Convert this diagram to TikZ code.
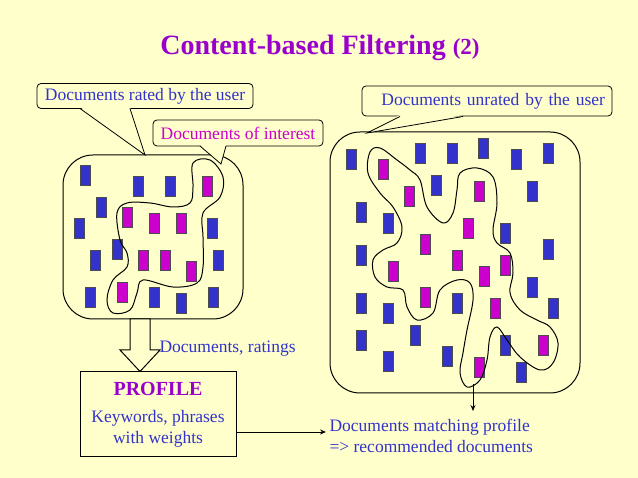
\documentclass[tikz,border=0pt]{standalone}
\usepackage{fontspec}
\setmainfont{Liberation Serif}
\usetikzlibrary{arrows.meta}
\definecolor{bg}{HTML}{FFFFCC}
\definecolor{dblue}{HTML}{3333CC}
\definecolor{dmag}{HTML}{CC00CC}
\definecolor{dpur}{HTML}{9900CC}
\begin{document}
\begin{tikzpicture}[x=1pt,y=-1pt,
  b/.style={fill=dblue,draw=black!70,line width=0.4pt,minimum width=10pt,minimum height=20pt,inner sep=0pt},
  m/.style={fill=dmag,draw=black!70,line width=0.4pt,minimum width=10pt,minimum height=20pt,inner sep=0pt},
  panel/.style={draw,line width=1pt,rounded corners=30pt},
  blob/.style={draw,line width=1pt},
  call/.style={draw,line width=0.8pt,fill=bg,rounded corners=4pt,font=\fontsize{17.5}{20}\selectfont,inner sep=3pt},
  txt/.style={font=\fontsize{17.5}{21.5}\selectfont}]
\fill[bg] (0,0) rectangle (638,478);
\useasboundingbox (0,0) rectangle (638,478);
\node[font=\bfseries\fontsize{28}{32}\selectfont,text=dpur] (title) at (320,48) {Content-based Filtering {\fontsize{23}{26}\selectfont(2)}};
% left panel
\draw[panel] (63,155) rectangle (243,319);
\foreach \x/\y [count=\i] in {85/175,138/186,170/186,101/207,212/228,79/228,117/249,95/260,218/260,90/297,154/297,181/303,213/297}
  \node[b] (lb\i) at (\x,\y) {};
\foreach \x/\y [count=\i] in {207/186,127/217,154/223,181/223,143/260,165/260,191/271,122/292}
  \node[m] (lm\i) at (\x,\y) {};
\draw[blob] plot[smooth cycle,tension=0.6] coordinates {(193,163)(210,160)(223,177)(220,197)(203,213)(203,237)(203,267)(197,283)(173,287)(143,280)(137,293)(130,310)(113,313)(107,300)(113,280)(127,267)(127,253)(120,240)(117,213)(127,203)(150,203)(173,207)(190,203)(193,187)};
% right panel
\draw[panel] (330,132) rectangle (580,393);
\foreach \x/\y [count=\i] in {351/159,420/153,452/153,483/148,516/159,548/153,436/185,532/191,361/212,388/223,505/233,548/249,361/255,532/287,457/303,361/303,388/313,553/308,415/335,361/340,505/345,447/356,388/361,521/372}
  \node[b] (rb\i) at (\x,\y) {};
\foreach \x/\y [count=\i] in {383/169,409/196,479/191,468/228,425/244,457/260,505/265,393/271,484/276,425/297,495/308,543/345,479/367}
  \node[m] (rm\i) at (\x,\y) {};
\draw[blob] plot[smooth cycle,tension=0.6] coordinates {(370,152)(380,148)(397,160)(410,170)(420,180)(427,207)(443,223)(453,213)(457,190)(460,173)(477,168)(493,177)(497,203)(493,230)(497,243)(510,253)(513,273)(510,293)(520,310)(537,320)(550,327)(558,343)(553,363)(540,370)(520,357)(507,340)(497,327)(490,337)(487,360)(480,380)(467,387)(460,373)(463,353)(467,330)(473,300)(470,283)(457,280)(440,290)(433,313)(417,320)(407,307)(403,290)(387,287)(375,277)(373,260)(383,250)(397,243)(402,227)(393,207)(380,193)(368,173)};
% callouts
\node[call,text=dblue,minimum width=216pt,minimum height=25pt] (c1) at (145,96) {Documents rated by the user};
\coordinate (t1) at (145,155);
\fill[bg] (80,107) -- (t1) -- (130,107) -- cycle;
\draw[line width=0.8pt] (80,108.5) -- (t1) -- (130,108.5);
\node[call,text=dmag,minimum width=170pt,minimum height=26pt] (c2) at (238,133) {Documents of interest};
\coordinate (t2) at (221,164);
\fill[bg] (200,145) -- (t2) -- (226,145) -- cycle;
\draw[line width=0.8pt] (200,146) -- (t2) -- (226,146);
\node[call,text=dblue,minimum width=250pt,minimum height=30pt,text width=236pt,align=right] (c3) at (487,101) {Documents unrated by the user};
\coordinate (t3) at (367,133);
\fill[bg] (400,115) -- (t3) -- (463,115) -- cycle;
\draw[line width=0.8pt] (400,116.5) -- (t3) -- (463,116.5);
% profile
\node[draw,line width=1pt,fill=bg,minimum width=156pt,minimum height=85pt] (prof) at (158,414) {};
\node[font=\bfseries\fontsize{20}{22}\selectfont,text=dpur] (pt) at (158,389) {PROFILE};
\node[txt,text=dblue,align=center] (pk) at (158,429) {Keywords, phrases\\with weights};
\draw[line width=1pt,fill=bg] (130,319) -- (150,319) -- (150,350) -- (160,350) -- (140,371.5) -- (120,350) -- (130,350) -- cycle;
\node[txt,text=dblue,anchor=west] (dr) at (156,349) {Documents, ratings};
\node[txt,text=dblue,anchor=west,align=left] (dm) at (326,436) {Documents matching profile\\=> recommended documents};
\draw[-{Stealth[length=6pt,width=5pt]},line width=0.8pt] (prof.east |- 0,432) -- (dm.west |- 0,432);
\coordinate (bb) at (473,384);
\draw[-{Stealth[length=6pt,width=5pt]},line width=0.8pt] (bb) -- (473,411);
\end{tikzpicture}
\end{document}
